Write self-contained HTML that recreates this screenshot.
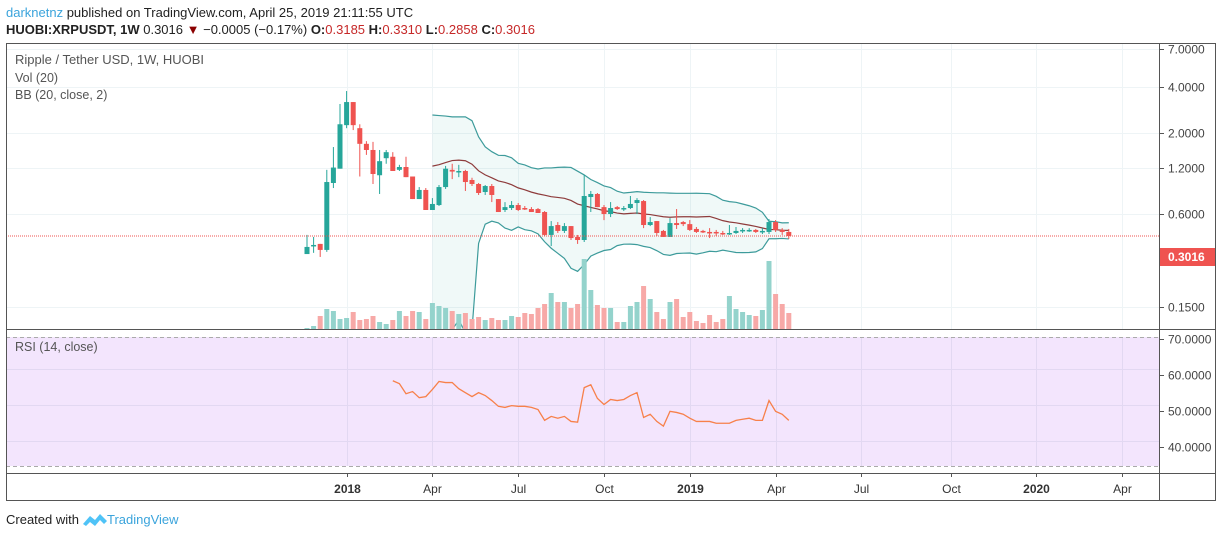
<!DOCTYPE html>
<html><head><meta charset="utf-8"><style>
body{margin:0;background:#fff;width:1222px;height:537px;overflow:hidden;font-family:"Liberation Sans",sans-serif}
svg text{font-family:"Liberation Sans",sans-serif}
</style></head><body>
<svg id="c" width="1222" height="537" xmlns="http://www.w3.org/2000/svg">
<text x="6" y="17" font-size="13"><tspan fill="#3ba4dc">darknetnz</tspan><tspan fill="#222"> published on TradingView.com, April 25, 2019 21:11:55 UTC</tspan></text>
<text x="6" y="34" font-size="13" fill="#222"><tspan font-weight="bold">HUOBI:XRPUSDT, 1W</tspan> 0.3016 <tspan fill="#8b0000">▼</tspan> −0.0005 (−0.17%) <tspan font-weight="bold">O:</tspan><tspan fill="#c62828">0.3185</tspan> <tspan font-weight="bold">H:</tspan><tspan fill="#c62828">0.3310</tspan> <tspan font-weight="bold">L:</tspan><tspan fill="#c62828">0.2858</tspan> <tspan font-weight="bold">C:</tspan><tspan fill="#c62828">0.3016</tspan></text>
<defs><clipPath id="pc"><rect x="6" y="43" width="1153" height="286"/></clipPath></defs>
<rect x="6" y="337" width="1153" height="129" fill="#f3e5fd"/>
<g id="grid"></g>
<g id="bb" clip-path="url(#pc)"></g>
<g id="vol" clip-path="url(#pc)"></g>
<g id="candles" clip-path="url(#pc)"></g>
<g id="rsi"></g>
<g id="axes"></g>
<rect x="6.5" y="43.5" width="1209" height="457" fill="none" stroke="#555"/>
<line x1="6" y1="329.5" x2="1215" y2="329.5" stroke="#555"/>
<line x1="6" y1="473.5" x2="1215" y2="473.5" stroke="#555"/>
<line x1="1159.5" y1="43" x2="1159.5" y2="500" stroke="#555"/>
<text x="15" y="64" font-size="13" fill="#555">Ripple / Tether USD, 1W, HUOBI</text>
<text x="15" y="82" font-size="12.5" fill="#555">Vol (20)</text>
<text x="15" y="99" font-size="12.5" fill="#555">BB (20, close, 2)</text>
<text x="15" y="351" font-size="12.5" fill="#555">RSI (14, close)</text>
<g>
<text x="6" y="524" font-size="13" fill="#222">Created with</text>
<path d="M83 524 l7 -8 l5 4 l5 -6 l7 7 l-3 3 l-4 -4 l-5 6 l-5 -4 l-4 4z" fill="#4fc3f7"/>
<text x="107" y="524" font-size="13" fill="#3ba4dc">TradingView</text>
</g>
</svg>
<script>
const candles=[[0.330,0.439,0.330,0.367],[0.372,0.426,0.336,0.378],[0.384,0.384,0.316,0.351],[0.351,1.16,0.341,0.967],[0.953,1.63,0.884,1.20],[1.18,3.10,1.18,2.29],[2.26,3.76,2.16,3.19],[3.19,3.19,2.10,2.26],[2.16,2.29,1.05,1.71],[1.71,1.78,1.45,1.56],[1.56,1.76,0.939,1.09],[1.07,1.56,0.809,1.32],[1.38,1.56,1.27,1.51],[1.41,1.51,1.14,1.14],[1.16,1.25,1.14,1.21],[1.21,1.41,1.04,1.04],[1.05,1.05,0.750,0.750],[0.750,0.897,0.750,0.859],[0.859,0.884,0.637,0.637],[0.637,0.761,0.637,0.697],[0.686,0.925,0.676,0.897],[0.897,1.23,0.872,1.18],[1.16,1.27,1.01,1.13],[1.13,1.25,1.04,1.14],[1.14,1.16,0.846,0.967],[0.997,1.03,0.911,0.939],[0.939,0.953,0.797,0.821],[0.833,0.925,0.797,0.911],[0.911,0.939,0.717,0.797],[0.750,0.750,0.618,0.618],[0.637,0.717,0.618,0.665],[0.656,0.728,0.637,0.686],[0.686,0.707,0.627,0.637],[0.656,0.676,0.637,0.646],[0.646,0.665,0.618,0.618],[0.646,0.656,0.609,0.609],[0.618,0.627,0.432,0.439],[0.439,0.540,0.372,0.501],[0.509,0.532,0.452,0.466],[0.466,0.524,0.452,0.501],[0.501,0.501,0.407,0.419],[0.426,0.439,0.384,0.407],[0.407,1.07,0.395,0.785],[0.773,0.846,0.618,0.809],[0.809,0.821,0.665,0.665],[0.665,0.686,0.548,0.600],[0.600,0.717,0.573,0.656],[0.665,0.676,0.637,0.646],[0.646,0.676,0.627,0.656],[0.656,0.785,0.646,0.697],[0.707,0.761,0.600,0.739],[0.728,0.739,0.486,0.509],[0.509,0.573,0.501,0.532],[0.540,0.540,0.432,0.452],[0.466,0.473,0.426,0.426],[0.426,0.564,0.426,0.524],[0.524,0.646,0.480,0.509],[0.532,0.540,0.501,0.516],[0.516,0.548,0.466,0.473],[0.480,0.494,0.452,0.459],[0.466,0.473,0.452,0.459],[0.459,0.486,0.419,0.452],[0.459,0.473,0.432,0.452],[0.452,0.466,0.439,0.445],[0.445,0.509,0.439,0.452],[0.452,0.494,0.445,0.466],[0.466,0.486,0.452,0.473],[0.466,0.486,0.459,0.473],[0.473,0.480,0.452,0.459],[0.459,0.486,0.445,0.466],[0.459,0.556,0.445,0.532],[0.532,0.548,0.459,0.473],[0.473,0.486,0.439,0.459],[0.459,0.480,0.413,0.432]];
const volumes=[1,3,13,20,18,10,11,17,9,10,13,7,5,9,18,13,18,17,10,26,23,21,18,15,16,10,12,9,11,9,9,13,12,16,15,21,25,36,27,27,21,25,70,39,24,21,21,7,7,23,27,43,30,17,10,27,30,12,17,8,6,14,7,10,33,20,17,14,13,19,68,35,25,16];
const rsiStart=13;
const rsiVals=[58.4,57.6,54.8,55.4,53.7,54.0,56,58.2,57.9,57.9,56.2,55.1,54.0,55.1,54.3,52.9,51.3,51.0,51.5,51.3,51.3,51.0,50.4,47.4,48.5,48.0,48.5,47.1,46.9,56.5,57.3,53.5,51.8,53.2,52.9,53.2,54.3,55.1,48.2,49.1,47.1,45.8,49.9,49.6,49.1,48.0,47.1,47.1,47.1,46.6,46.6,46.6,47.4,47.7,48.0,47.4,47.4,52.9,49.9,49.1,47.4];
const priceTicks=[7,4,2,1.2,0.6,0.15];
const priceTickLabels=["7.0000","4.0000","2.0000","1.2000","0.6000","0.1500"];
const rsiTicks=[70,60,50,40];
const rsiTickLabels=["70.0000","60.0000","50.0000","40.0000"];
const timeTicks=[6,19,32,45,58,71,84,97.5,110.5,123.5];
const timeLabels=["2018","Apr","Jul","Oct","2019","Apr","Jul","Oct","2020","Apr"];
const lastLabel="0.3016";

const NS="http://www.w3.org/2000/svg";
const X=i=>307+i*6.6;
const Y=p=>214-67*Math.log(p/0.6);
const VY=v=>329-v;
const RY=v=>339+(70-v)*3.6;
function mk(t,a,parent){const e=document.createElementNS(NS,t);for(const k in a)e.setAttribute(k,a[k]);parent.appendChild(e);return e;}
const G=id=>document.getElementById(id);
const grid=G('grid'),axes=G('axes');
timeTicks.forEach((t,k)=>{
  const x=Math.round(X(t))+0.5;
  let l=mk('line',{x1:x,y1:43,x2:x,y2:329,stroke:'#eef4f6'},grid);
  
  
  l=mk('line',{x1:x,y1:337,x2:x,y2:466,stroke:'#e2d8f2'},grid);
  
  
  mk('line',{x1:x,y1:473,x2:x,y2:477,stroke:'#555'},axes);
  const tx=mk('text',{x:x,y:493,'font-size':12,'text-anchor':'middle',fill:'#333','font-weight':/^\d/.test(timeLabels[k])?'bold':'normal'},axes);
  tx.textContent=timeLabels[k];
  
  
});
priceTicks.forEach((p,k)=>{
  const y=Math.round(Y(p))+0.5;
  const l=mk('line',{x1:6,y1:y,x2:1159,y2:y,stroke:'#eef4f6'},grid);
  
  
  mk('line',{x1:1159,y1:y,x2:1164,y2:y,stroke:'#555'},axes);
  const t=mk('text',{x:1168,y:y+4,'font-size':12,fill:'#444'},axes);
  t.textContent=priceTickLabels[k];
  
  
});
rsiTicks.forEach((v,k)=>{
  const y=Math.round(RY(v))+0.5;
  if(v<70){const l=mk('line',{x1:6,y1:y-6,x2:1159,y2:y-6,stroke:'#e2d8f2'},grid);
  
  }
  mk('line',{x1:1159,y1:y,x2:1164,y2:y,stroke:'#555'},axes);
  const t=mk('text',{x:1168,y:y+4,'font-size':12,fill:'#444'},axes);
  t.textContent=rsiTickLabels[k];
  
  
});
[337.5,466.5].forEach(y=>{const l=mk('line',{x1:6,y1:y,x2:1159,y2:y,stroke:'#aaa','stroke-dasharray':'4,3'},grid);
  
  });
const closes=candles.map(c=>c[3]);
const up=[],mid=[],lo=[];
for(let i=19;i<closes.length;i++){const s=closes.slice(i-19,i+1);const m=s.reduce((a,b)=>a+b)/20;const sd=Math.sqrt(s.reduce((a,b)=>a+(b-m)*(b-m),0)/20);
  up.push([i,m+2*sd]);mid.push([i,m]);lo.push([i,m-2*sd]);}
const py=p=>p<=0.01?400:Y(p);
const bb=G('bb');
let d='M'+up.map(([i,v])=>X(i)+','+Y(v)).join('L')+'L'+lo.slice().reverse().map(([i,v])=>X(i)+','+py(v)).join('L')+'Z';
let e=mk('path',{d:d,fill:'rgba(38,166,154,0.07)'},bb);


[[up,'#3d9b9b','bb-upper'],[mid,'#8e3b3b','bb-basis'],[lo,'#3d9b9b','bb-lower']].forEach(([arr,col,n])=>{
  const p=mk('path',{d:'M'+arr.map(([i,v])=>X(i)+','+py(v)).join('L'),fill:'none',stroke:col,'stroke-width':1.2},bb);
  
  
});
const vg=G('vol');
volumes.forEach((v,i)=>{const c=candles[i];const gr=c[3]>=c[0];
  const r=mk('rect',{x:X(i)-2.5,y:VY(v),width:5,height:v,fill:gr?'#94d3cc':'#f7a9a7'},vg);
  
  });
const cg=G('candles');
candles.forEach((c,i)=>{const [o,h,l,cl]=c;const gr=cl>=o;const col=gr?'#26a69a':'#ef5350';const x=X(i);
  const g=mk('g',{},cg);
  
  
  mk('line',{x1:x,y1:Y(h),x2:x,y2:Y(l),stroke:col,'stroke-width':1},g);
  const t=Math.min(Y(o),Y(cl));mk('rect',{x:x-2.5,y:t,width:5,height:Math.max(1.5,Math.abs(Y(o)-Y(cl))),fill:col},g);
});
const ly=Y(closes[closes.length-1]);
e=mk('line',{x1:6,y1:ly,x2:1159,y2:ly,stroke:'#ef5350','stroke-dasharray':'1,1'},cg);


e=mk('rect',{x:1159,y:248,width:56,height:18,fill:'#ef5350'},axes);


e=mk('text',{x:1168,y:261,'font-size':12,'font-weight':'bold',fill:'#fff'},axes);
e.textContent=lastLabel;


e=mk('path',{d:'M'+rsiVals.map((v,k)=>X(rsiStart+k)+','+RY(v)).join('L'),fill:'none',stroke:'#f7804a','stroke-width':1.3},G('rsi'));


</script>
</body></html>
